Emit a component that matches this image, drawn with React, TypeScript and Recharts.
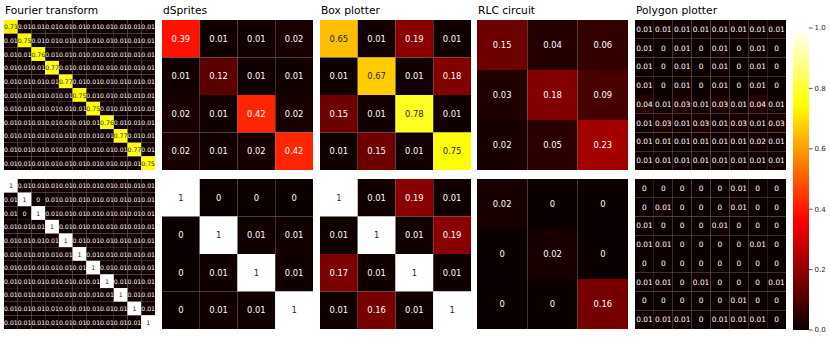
import React from 'react';
import { ScatterChart, Scatter, XAxis, YAxis, ReferenceLine, BarChart, Bar } from 'recharts';

const FONT = '"DejaVu Sans", sans-serif';

// ---------- data ----------
const panelTitles = ['Fourier transform', 'dSprites', 'Box plotter', 'RLC circuit', 'Polygon plotter'];

const fourierTop = [
  [0.73, 0.01, 0.01, 0.01, 0.01, 0.01, 0.01, 0.01, 0.01, 0.01, 0.01],
  [0.01, 0.75, 0.01, 0.01, 0.01, 0.01, 0.01, 0.01, 0.01, 0.01, 0.01],
  [0.01, 0.01, 0.76, 0.01, 0.01, 0.01, 0.01, 0.01, 0.01, 0.01, 0.01],
  [0.01, 0.01, 0.01, 0.77, 0.01, 0.01, 0.01, 0.01, 0.01, 0.01, 0.01],
  [0.01, 0.01, 0.01, 0.01, 0.77, 0.01, 0.01, 0.01, 0.01, 0.01, 0.01],
  [0.01, 0.01, 0.01, 0.01, 0.01, 0.75, 0.01, 0.01, 0.01, 0.01, 0.01],
  [0.01, 0.01, 0.01, 0.01, 0.01, 0.01, 0.75, 0.01, 0.01, 0.01, 0.01],
  [0.01, 0.01, 0.01, 0.01, 0.01, 0.01, 0.01, 0.76, 0.01, 0.01, 0.01],
  [0.01, 0.01, 0.01, 0.01, 0.01, 0.01, 0.01, 0.01, 0.77, 0.01, 0.01],
  [0.01, 0.01, 0.01, 0.01, 0.01, 0.01, 0.01, 0.01, 0.01, 0.77, 0.01],
  [0.01, 0.01, 0.01, 0.01, 0.01, 0.01, 0.01, 0.01, 0.01, 0.01, 0.75],
];
const fourierBottom = [
  [1, 0.01, 0.01, 0.01, 0.01, 0.01, 0.01, 0.01, 0.01, 0.01, 0.01],
  [0.01, 1, 0, 0.01, 0.01, 0.01, 0.01, 0.01, 0.01, 0.01, 0.01],
  [0.01, 0, 1, 0.01, 0.01, 0.01, 0.01, 0.01, 0.01, 0.01, 0.01],
  [0.01, 0.01, 0.01, 1, 0.01, 0.01, 0.01, 0.01, 0.01, 0.01, 0.01],
  [0.01, 0.01, 0.01, 0.01, 1, 0.01, 0.01, 0.01, 0.01, 0.01, 0.01],
  [0.01, 0.01, 0.01, 0.01, 0.01, 1, 0.01, 0.01, 0.01, 0.01, 0.01],
  [0.01, 0.01, 0.01, 0.01, 0.01, 0.01, 1, 0.01, 0.01, 0.01, 0.01],
  [0.01, 0.01, 0.01, 0.01, 0.01, 0.01, 0.01, 1, 0.01, 0.01, 0.01],
  [0.01, 0.01, 0.01, 0.01, 0.01, 0.01, 0.01, 0.01, 1, 0.01, 0.01],
  [0.01, 0.01, 0.01, 0.01, 0.01, 0.01, 0.01, 0.01, 0.01, 1, 0.01],
  [0.01, 0.01, 0.01, 0.01, 0.01, 0.01, 0.01, 0.01, 0.01, 0.01, 1],
];

const dSpritesTop = [
  [0.39, 0.01, 0.01, 0.02],
  [0.01, 0.12, 0.01, 0.01],
  [0.02, 0.01, 0.42, 0.02],
  [0.02, 0.01, 0.02, 0.42],
];
const dSpritesBottom = [
  [1, 0, 0, 0],
  [0, 1, 0.01, 0.01],
  [0, 0.01, 1, 0.01],
  [0, 0.01, 0.01, 1],
];

const boxTop = [
  [0.65, 0.01, 0.19, 0.01],
  [0.01, 0.67, 0.01, 0.18],
  [0.15, 0.01, 0.78, 0.01],
  [0.01, 0.15, 0.01, 0.75],
];
const boxBottom = [
  [1, 0.01, 0.19, 0.01],
  [0.01, 1, 0.01, 0.19],
  [0.17, 0.01, 1, 0.01],
  [0.01, 0.16, 0.01, 1],
];

const rlcTop = [
  [0.15, 0.04, 0.06],
  [0.03, 0.18, 0.09],
  [0.02, 0.05, 0.23],
];
const rlcBottom = [
  [0.02, 0, 0],
  [0, 0.02, 0],
  [0, 0, 0.16],
];

const polygonTop = [
  [0.01, 0.01, 0.01, 0.01, 0.01, 0.01, 0.01, 0.01],
  [0.01, 0, 0.01, 0, 0.01, 0, 0.01, 0],
  [0.01, 0, 0.01, 0, 0.01, 0, 0.01, 0],
  [0.01, 0, 0.01, 0, 0.01, 0, 0.01, 0],
  [0.04, 0.01, 0.03, 0.01, 0.03, 0.01, 0.04, 0.01],
  [0.01, 0.03, 0.01, 0.03, 0.01, 0.03, 0.01, 0.03],
  [0.01, 0.01, 0.01, 0.01, 0.01, 0.01, 0.02, 0.01],
  [0.01, 0.01, 0.01, 0.01, 0.01, 0.01, 0.01, 0.01],
];
const polygonBottom = [
  [0, 0, 0, 0, 0, 0.01, 0, 0],
  [0, 0.01, 0, 0, 0, 0.01, 0, 0],
  [0.01, 0, 0, 0, 0.01, 0, 0, 0],
  [0.01, 0.01, 0, 0, 0, 0, 0.01, 0],
  [0, 0, 0, 0, 0, 0, 0, 0],
  [0.01, 0.01, 0, 0.01, 0, 0, 0, 0.01],
  [0, 0, 0, 0, 0, 0.01, 0, 0],
  [0.01, 0.01, 0.01, 0, 0.01, 0.01, 0.01, 0],
];

const colorbarTicks = [0, 0.2, 0.4, 0.6, 0.8, 1.0];

// ---------- styling ----------
const PANEL_W = 151;
const PANEL_H = 150;
const panelLefts = [4, 162, 320, 477, 635];
const rowTops = [20, 179];
const annotSizes = [6.2, 8.4, 8.4, 8.4, 7.4];

// matplotlib "hot" colormap
function hot(v: number): [number, number, number] {
  const clamp = (x: number) => Math.max(0, Math.min(1, x));
  const r = v < 0.365079 ? 0.0416 + (1 - 0.0416) * (v / 0.365079) : 1;
  const g = clamp((v - 0.365079) / (0.746032 - 0.365079));
  const b = clamp((v - 0.746032) / (1 - 0.746032));
  return [r, g, b];
}
function toCss(c: [number, number, number]) {
  return `rgb(${Math.round(c[0] * 255)},${Math.round(c[1] * 255)},${Math.round(c[2] * 255)})`;
}
function lum(c: [number, number, number]) {
  const lin = (x: number) => (x <= 0.03928 ? x / 12.92 : Math.pow((x + 0.055) / 1.055, 2.4));
  return 0.2126 * lin(c[0]) + 0.7152 * lin(c[1]) + 0.0722 * lin(c[2]);
}

function Heatmap({ matrix, fontSize }: { matrix: number[][]; fontSize: number }) {
  const n = matrix.length;
  const data = matrix.flatMap((row, r) => row.map((v, c) => ({ x: c + 0.5, y: r + 0.5, v })));
  const cw = PANEL_W / n;
  const ch = PANEL_H / n;
  const lines = Array.from({ length: n + 1 }, (_, i) => i);
  const shape = (p: any) => {
    const v = p.payload.v;
    const col = hot(v);
    const txt = lum(col) > 0.408 ? '#262626' : '#ffffff';
    return (
      <g>
        <rect x={p.cx - cw / 2} y={p.cy - ch / 2} width={cw} height={ch} fill={toCss(col)} />
        <text
          x={p.cx}
          y={p.cy}
          textAnchor="middle"
          dominantBaseline="central"
          fontSize={fontSize}
          fontFamily={FONT}
          fill={txt}
        >
          {String(v)}
        </text>
      </g>
    );
  };
  return (
    <ScatterChart width={PANEL_W} height={PANEL_H} margin={{ top: 0, right: 0, bottom: 0, left: 0 }}>
      <XAxis type="number" dataKey="x" domain={[0, n]} hide />
      <YAxis type="number" dataKey="y" domain={[0, n]} reversed hide />
      <Scatter data={data} shape={shape} isAnimationActive={false} />
      {lines.map((i) => (
        <ReferenceLine key={'x' + i} x={i} stroke="#ffffff" strokeOpacity={0.45} strokeWidth={1} />
      ))}
      {lines.map((i) => (
        <ReferenceLine key={'y' + i} y={i} stroke="#ffffff" strokeOpacity={0.45} strokeWidth={1} />
      ))}
    </ScatterChart>
  );
}

function Colorbar() {
  const cbData = [{ k: 'cb', v: 1 }];
  const shape = (p: any) => (
    <g>
      <defs>
        <linearGradient id="hotGrad" x1="0" y1="1" x2="0" y2="0">
          <stop offset="0" stopColor="rgb(11,0,0)" />
          <stop offset="0.365079" stopColor="rgb(255,0,0)" />
          <stop offset="0.746032" stopColor="rgb(255,255,0)" />
          <stop offset="1" stopColor="rgb(255,255,255)" />
        </linearGradient>
      </defs>
      <rect x={p.x} y={p.y} width={p.width} height={p.height} fill="url(#hotGrad)" />
    </g>
  );
  return (
    <BarChart width={16 + 30} height={314} data={cbData} margin={{ top: 6, right: 0, bottom: 6, left: 0 }} barCategoryGap={0}>
      <XAxis dataKey="k" hide />
      <YAxis
        orientation="right"
        type="number"
        domain={[0, 1]}
        ticks={colorbarTicks}
        interval={0}
        tickFormatter={(v: number) => v.toFixed(1)}
        axisLine={false}
        tickSize={3.5}
        tickLine={{ stroke: '#555555' }}
        tick={{ fontSize: 7, fill: '#262626', fontFamily: FONT }}
        width={30}
      />
      <Bar dataKey="v" shape={shape} isAnimationActive={false} />
    </BarChart>
  );
}

const topRow = [fourierTop, dSpritesTop, boxTop, rlcTop, polygonTop];
const bottomRow = [fourierBottom, dSpritesBottom, boxBottom, rlcBottom, polygonBottom];

export default function App() {
  return (
    <div
      style={{
        position: 'fixed',
        left: 0,
        top: 0,
        width: 830,
        height: 339,
        background: '#ffffff',
        fontFamily: FONT,
        overflow: 'hidden',
      }}
    >
      {panelTitles.map((t, i) => (
        <div
          key={t}
          style={{
            position: 'absolute',
            left: panelLefts[i] + 1,
            top: 5,
            fontSize: 10.7,
            lineHeight: '11px',
            color: '#000000',
            whiteSpace: 'nowrap',
          }}
        >
          {t}
        </div>
      ))}
      {[topRow, bottomRow].map((row, r) =>
        row.map((m, i) => (
          <div key={r + '-' + i} style={{ position: 'absolute', left: panelLefts[i], top: rowTops[r] }}>
            <Heatmap matrix={m} fontSize={annotSizes[i]} />
          </div>
        ))
      )}
      <div style={{ position: 'absolute', left: 793, top: 22 }}>
        <Colorbar />
      </div>
    </div>
  );
}
